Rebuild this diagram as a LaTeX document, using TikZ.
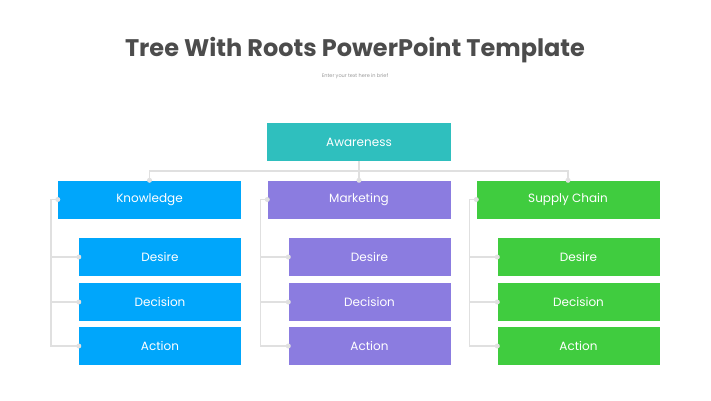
\documentclass[tikz,border=0pt]{standalone}
\usepackage{fontspec}
\setmainfont{Poppins}
\begin{document}
\begin{tikzpicture}[x=1pt,y=-1pt,
 box/.style={draw=none,minimum height=38pt,text=white,font=\fontsize{12}{14}\selectfont,inner sep=0pt},
 con/.style={draw=black!12,line width=1.6pt},
 dot/.style={circle,fill=black!12,inner sep=0pt,minimum size=5pt}]
\definecolor{teal}{HTML}{2FBFBE}\definecolor{cblue}{HTML}{00A6FB}
\definecolor{cpurp}{HTML}{8B7CE0}\definecolor{cgreen}{HTML}{40CC3F}
\useasboundingbox[fill=white] (0,0) rectangle (711,400);
\node[text=black!70,font=\fontsize{24}{28}\selectfont\bfseries] (t) at (355,50) {Tree With Roots PowerPoint Template};
\node[text=black!40,font=\fontsize{5}{6}\selectfont] (s) at (355,76) {Enter your text here in brief};
\node[box,fill=teal,minimum width=184pt] (aw) at (359,142) {Awareness};
\coordinate (j) at (359,171);
\foreach \n/\x/\c/\lab in {k/149.5/cblue/Knowledge,m/359/cpurp/Marketing,s/568/cgreen/Supply Chain}{
 \node[box,fill=\c,minimum width=183pt] (\n) at (\x,199.5) {\lab};
 \draw[con] (j) -| (\n.north);
 \node[dot] at (\n.north) {};
 \coordinate (\n l) at ([xshift=-7pt]\n.west);
 \foreach \i/\y/\t in {1/257/Desire,2/302/Decision,3/346/Action}{
  \node[box,fill=\c,minimum width=162pt] (\n\i) at (\x+10.5,\y) {\t};
 }
 \draw[con] (\n.west) -- (\n l) |- (\n3.west);
 \foreach \i in {1,2}{\draw[con] (\n l |- \n\i.west) -- (\n\i.west);}
 \foreach \i in {1,2,3}{\node[dot] at (\n\i.west) {};}
 \node[dot] at (\n.west) {};
}
\draw[con] (aw.south) -- (j);
\end{tikzpicture}
\end{document}
